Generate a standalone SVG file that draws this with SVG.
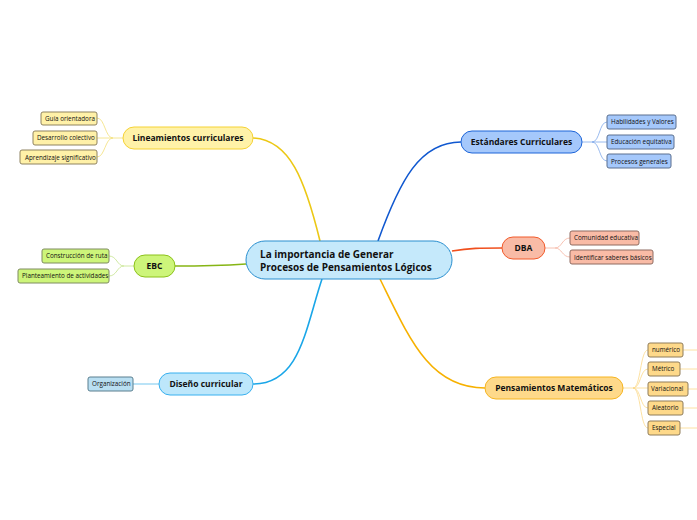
<svg xmlns="http://www.w3.org/2000/svg" width="697" height="520" viewBox="0 0 697 520">
<style>
text{font-family:"Open Sans","Noto Sans","Liberation Sans",sans-serif;fill:#111}
.m{font-size:8.5px;font-weight:bold;text-anchor:middle}
.l{font-size:6.3px}
.c{fill:none}
.y rect{fill:#fff1a8;stroke:#8f8360}
.g rect{fill:#cdf57a;stroke:#7f8c60}
.b rect{fill:#a5c8fb;stroke:#5a6f8f}
.o rect{fill:#f9bba6;stroke:#8f6b60}
.p rect{fill:#fed98a;stroke:#8f7c5a}
.t rect{fill:#bde7fb;stroke:#5a7f8f}
</style>
<rect width="697" height="520" fill="#fff"/>
<g id="connectors" class="c">
<path d="M320,241 C305,180 290,140 253,138" stroke="#ecc815" stroke-width="1.6"/>
<path d="M246,264 C215,266 200,266 175,266" stroke="#86b515" stroke-width="1.6"/>
<path d="M322,279 C305,330 300,384 253,384" stroke="#1aa6e8" stroke-width="1.6"/>
<path d="M378,241 C400,180 420,142 461,142" stroke="#1058d0" stroke-width="1.6"/>
<path d="M452,251 C470,248 480,248 502,248" stroke="#f0501e" stroke-width="1.6"/>
<path d="M380,279 C410,340 430,388 485,388" stroke="#f7b100" stroke-width="1.6"/>
<g stroke="#f3e07a" stroke-width="0.8"><path d="M123,138 H113 C105,138 105,118 97,118"/><path d="M113,138 H97"/><path d="M113,138 C105,138 105,157 97,157"/></g>
<g stroke="#c4e38a" stroke-width="0.8"><path d="M134,266 H124 C117,266 117,256 109,256"/><path d="M124,266 C117,266 117,276 109,276"/></g>
<path d="M159,384 H133" stroke="#a9dcf5" stroke-width="1.6"/>
<g stroke="#7fa8ea" stroke-width="0.8"><path d="M582,142 H592 C600,142 599,122 607,122"/><path d="M592,142 H607"/><path d="M592,142 C600,142 599,161 607,161"/></g>
<g stroke="#f5b3a0" stroke-width="0.8"><path d="M545,248 H555 C562,248 562,238 570,238"/><path d="M555,248 C562,248 562,257 570,257"/></g>
<g stroke="#fbd98a" stroke-width="0.8"><path d="M623,388 H633 C641,388 640,350 648,350"/><path d="M633,388 C641,388 640,369 648,369"/><path d="M633,388 H648"/><path d="M633,388 C641,388 640,408 648,408"/><path d="M633,388 C641,388 640,428 648,428"/>
<path d="M683,350 H697 M680,369 H697 M688,389 H697 M683,408 H697 M680,428 H697"/></g>
</g>
<g id="center"><rect x="246" y="241" width="206" height="38" rx="19" fill="#c5e9fb" stroke="#2a8fcf"/><text x="260" y="258" font-size="10" font-weight="bold">La importancia de Generar</text><text x="260" y="271" font-size="10" font-weight="bold">Procesos de Pensamientos Lógicos</text></g>
<g id="lineamientos"><rect x="123" y="127" width="130" height="22" rx="11" fill="#fff2a8" stroke="#f5d235"/><text class="m" x="188" y="141">Lineamientos curriculares</text></g>
<g id="guia" class="y"><rect x="41" y="112" width="56" height="13" rx="2"/><text class="l" x="45" y="121">Guía orientadora</text></g>
<g id="desarrollo" class="y"><rect x="33" y="131" width="64" height="14" rx="2"/><text class="l" x="37" y="140">Desarrollo colectivo</text></g>
<g id="aprendizaje" class="y"><rect x="20" y="150" width="77" height="14" rx="2"/><text class="l" x="25" y="160">Aprendizaje significativo</text></g>
<g id="ebc"><rect x="134" y="255" width="41" height="22" rx="11" fill="#cdf57a" stroke="#8cc21a"/><text class="m" x="154.5" y="269">EBC</text></g>
<g id="construccion" class="g"><rect x="42" y="249" width="67" height="14" rx="2"/><text class="l" x="46" y="258">Construcción de ruta</text></g>
<g id="planteamiento" class="g"><rect x="18" y="269" width="91" height="14" rx="2"/><text class="l" x="22" y="278">Planteamiento de actividades</text></g>
<g id="diseno"><rect x="159" y="373" width="94" height="22" rx="11" fill="#bde7fb" stroke="#38b0ef"/><text class="m" x="206" y="387">Diseño curricular</text></g>
<g id="organizacion" class="t"><rect x="88" y="377" width="45" height="14" rx="2" style="fill:#b9dff2"/><text class="l" x="92" y="386">Organización</text></g>
<g id="estandares"><rect x="461" y="131" width="121" height="22" rx="11" fill="#a5c8fb" stroke="#1c64d8"/><text class="m" x="521.5" y="145">Estándares Curriculares</text></g>
<g id="habilidades" class="b"><rect x="607" y="115" width="69" height="14" rx="2"/><text class="l" x="611" y="124">Habilidades y Valores</text></g>
<g id="educacion" class="b"><rect x="607" y="135" width="67" height="14" rx="2"/><text class="l" x="611" y="144">Educación equitativa</text></g>
<g id="procesos" class="b"><rect x="607" y="154" width="64" height="14" rx="2"/><text class="l" x="611" y="164">Procesos generales</text></g>
<g id="dba"><rect x="502" y="237" width="43" height="22" rx="11" fill="#f9bba6" stroke="#f25a2a"/><text class="m" x="523.5" y="251">DBA</text></g>
<g id="comunidad" class="o"><rect x="570" y="231" width="69" height="14" rx="2"/><text class="l" x="574" y="240">Comunidad educativa</text></g>
<g id="identificar" class="o"><rect x="570" y="250" width="83" height="14" rx="2"/><text class="l" x="574" y="260">Identificar saberes básicos</text></g>
<g id="pensamientos"><rect x="485" y="377" width="138" height="22" rx="11" fill="#fed98a" stroke="#f6b521"/><text class="m" x="554" y="391">Pensamientos Matemáticos</text></g>
<g id="numerico" class="p"><rect x="648" y="343" width="35" height="14" rx="2"/><text class="l" x="652" y="352">numérico</text></g>
<g id="metrico" class="p"><rect x="648" y="362" width="32" height="14" rx="2"/><text class="l" x="652" y="371">Métrico</text></g>
<g id="variacional" class="p"><rect x="648" y="382" width="40" height="14" rx="2"/><text class="l" x="651" y="391">Variacional</text></g>
<g id="aleatorio" class="p"><rect x="648" y="401" width="35" height="14" rx="2"/><text class="l" x="652" y="410">Aleatorio</text></g>
<g id="especial" class="p"><rect x="648" y="421" width="32" height="14" rx="2"/><text class="l" x="652" y="430">Especial</text></g>
</svg>
